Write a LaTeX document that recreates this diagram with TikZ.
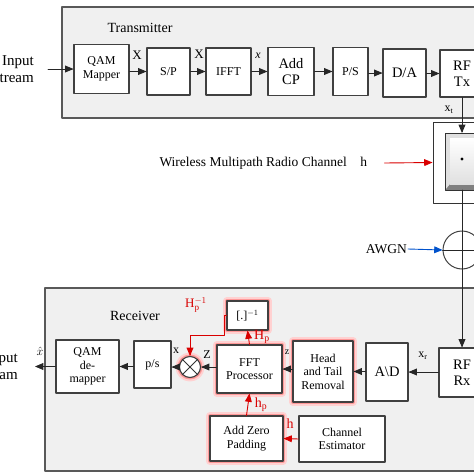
\documentclass[tikz,border=0pt]{standalone}
\usepackage{fontspec}
\setmainfont{Liberation Serif}
\usetikzlibrary{arrows}

\begin{document}
\begin{tikzpicture}[line cap=round,line join=round,>=triangle 45,x=1pt,y=-1pt,
  unitframe/.style={draw=black!65,line width=1.8pt,fill=black!6},
  blk/.style={draw=black!75,line width=1.1pt,fill=white,align=center,inner sep=0pt,font=\fontsize{12}{13.5}\selectfont},
  bigblk/.style={blk,font=\fontsize{14.5}{16}\selectfont},
  glow/.style={preaction={draw=red!18,line width=8pt},preaction={draw=red!40,line width=4pt}},
  link/.style={->,line width=0.9pt,draw=black!85},
  redlink/.style={->,line width=0.9pt,draw=red!85!black},
  bluelink/.style={->,line width=0.9pt,draw=blue!60!cyan!80!black},
  lbl/.style={font=\fontsize{12}{13}\selectfont,inner sep=0pt},
  redlbl/.style={lbl,text=red!85!black}]
\useasboundingbox (0,0) rectangle (474,474);
\clip (0,0) rectangle (474,474);

% transmitter
\draw[unitframe] (62,7) rectangle (505,118);
\draw(140,28) node[font=\fontsize{14}{16}\selectfont] {Transmitter};
\node[anchor=east,align=right,font=\fontsize{15}{17}\selectfont,inner sep=0pt] (instr) at (34,69) {Input\\stream};
\node[blk,minimum width=55,minimum height=49] (qam) at (101.5,69) {QAM\\Mapper};
\node[blk,minimum width=43,minimum height=47] (sp) at (168.5,71.5) {S/P};
\node[blk,minimum width=45,minimum height=47] (ifft) at (228.5,71.5) {IFFT};
\node[bigblk,minimum width=46,minimum height=48] (addcp) at (291,71.5) {Add\\CP};
\node[blk,minimum width=35,minimum height=48] (ps) at (350.5,71.5) {P/S};
\node[bigblk,minimum width=43,minimum height=48] (da) at (404.5,73) {D/A};
\node[bigblk,minimum width=44,minimum height=47] (rftx) at (462,73.5) {RF\\Tx};
\draw[link] ([xshift=14pt]instr.east |- qam.west) -- (qam.west);
\draw[link] (qam.east |- sp.west) -- (sp.west);
\draw[link] (sp.east) -- (ifft.west);
\draw[link] (ifft.east) -- (addcp.west);
\draw[link] (addcp.east) -- (ps.west);
\draw[link] (ps.east |- da.west) -- (da.west);
\draw[link] (da.east |- rftx.west) -- (rftx.west);
\draw(137,55) node[lbl,font=\fontsize{13}{14}\selectfont] {X};
\draw(199,54) node[lbl,font=\fontsize{13}{14}\selectfont] {X};
\draw(258,56) node[lbl] {\textit{x}};
\draw(449,110) node[lbl] {x$_{\mathrm{t}}$};

% channel
\node[draw=black!80,line width=1pt,minimum width=58,minimum height=81,inner sep=0pt] (chan) at (462,162.5) {};
\fill[black!50] (445,133) rectangle (479,190);
\fill[black!12] (445,133) -- (479,133) -- (474,138) -- (450,138) -- (450,184) -- (445,190) -- cycle;
\shade[top color=white,bottom color=black!12] (450,138) rectangle (474,184);
\draw[black!80,line width=1pt] (445,133) rectangle (479,190);
\fill (462,159) circle (1.6);
\coordinate (btntop) at (462,133);
\coordinate (btnbot) at (462,190);
\draw[link] (rftx.south) -- (btntop);
\node[anchor=west,font=\fontsize{13.5}{15}\selectfont] (wmrc) at (156,163) {Wireless Multipath Radio Channel\quad h};
\draw[redlink] ([xshift=14pt]wmrc.east) -- (chan.west);

% noise
\node[circle,draw=black!75,line width=1pt,minimum size=38,inner sep=0pt] (add) at (462,250) {};
\draw[line width=1pt,black!85] (add.west) -- (add.east);
\node[anchor=east,font=\fontsize{13.5}{15}\selectfont,inner sep=1pt] (awgn) at (408,249) {AWGN};
\draw[bluelink] (awgn.east) -- (add.west);

% receiver
\draw[unitframe] (45,288) rectangle (505,471);
\draw(135,316) node[font=\fontsize{14}{16}\selectfont] {Receiver};
\node[bigblk,minimum width=46,minimum height=49] (rfrx) at (462,372.5) {RF\\Rx};
\draw[link] (btnbot) -- (rfrx.north);
\node[bigblk,minimum width=42,minimum height=58] (ad) at (387,372) {A\textbackslash D};
\node[blk,glow,minimum width=60,minimum height=61] (head) at (323,371.5) {Head\\and Tail\\Removal};
\node[blk,glow,minimum width=65,minimum height=48] (fft) at (249.5,369) {FFT\\Processor};
\node[circle,draw=black!75,line width=1.1pt,fill=white,glow,minimum size=21,inner sep=0pt] (mult) at (190,367) {};
\draw[line width=1pt,black!80] (mult.north west) -- (mult.south east) (mult.north east) -- (mult.south west);
\node[blk,minimum width=37,minimum height=47] (psr) at (152.5,364.5) {p/s};
\node[blk,minimum width=63,minimum height=53] (qamd) at (87.5,366.5) {QAM\\de-\\mapper};
\node[blk,glow,minimum width=41,minimum height=29] (inv) at (247.5,315.5) {[.]$^{-1}$};
\node[blk,glow,minimum width=73,minimum height=45] (azp) at (246.5,438.5) {Add Zero\\Padding};
\node[blk,minimum width=86,minimum height=46] (chest) at (342,439) {Channel\\Estimator};
\node[anchor=east,align=right,font=\fontsize{15}{17}\selectfont,inner sep=0pt] (outstr) at (18,366) {Output\\stream};

\draw[link] (rfrx.west |- ad.east) -- (ad.east);
\draw[link] (ad.west |- head.east) -- (head.east);
\draw[link] (head.west |- fft.east) -- (fft.east);
\draw[link] (fft.west |- mult.east) -- (mult.east);
\draw[link] (mult.west) -- (psr.east |- mult.west);
\draw[link] (psr.west |- qamd.east) -- (qamd.east);
\draw[link] (qamd.west) -- ([xshift=17pt]outstr.east |- qamd.west);
\draw[redlink] (fft.north) -- (inv.south);
\draw[redlink] (azp.north) -- (fft.south);
\draw[redlink] (chest.west) -- (azp.east);
\draw[redlink] (inv.west) -| ++(-2,20) -| (mult.north);

\draw(423,356) node[lbl] {x$_{\mathrm{r}}$};
\draw(287,352) node[lbl,font=\fontsize{10}{11}\selectfont] {z};
\draw(207,355) node[lbl] {Z};
\draw(176,351) node[lbl] {x};
\draw(40,351) node[lbl] {$\hat{x}$};
\draw(196,305) node[redlbl,font=\fontsize{13}{14}\selectfont] {H$_{\mathrm{p}}^{-1}$};
\draw(262,337) node[redlbl,font=\fontsize{14}{15}\selectfont] {H$_{\mathrm{p}}$};
\draw(261,405) node[redlbl,font=\fontsize{14}{15}\selectfont] {h$_{\mathrm{p}}$};
\draw(290,424) node[redlbl,font=\fontsize{14}{15}\selectfont] {h};
\end{tikzpicture}
\end{document}
